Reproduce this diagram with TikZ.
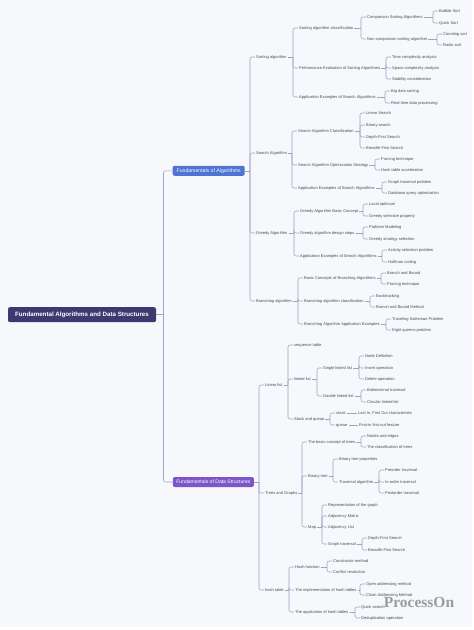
\documentclass[tikz,border=0pt]{standalone}
\usepackage{fontspec}
\setmainfont{Liberation Sans}
\newfontfamily\wmfont{Liberation Serif}
\usetikzlibrary{calc}
\definecolor{bgc}{HTML}{F6F8FC}
\definecolor{linec}{HTML}{A0A5BF}
\definecolor{txtc}{HTML}{4B4B57}
\definecolor{rootc}{HTML}{3C3A6E}
\definecolor{algc}{HTML}{4D74D0}
\definecolor{dsc}{HTML}{7C55CA}
\newcommand\kids[4][5]{%
  \draw[conn] (#2.east) -- ($(#2.east -| #3.west)+(-#1,0)$);
  \foreach \ch in {#4}{\draw[conn] ($(#2.east -| #3.west)+(-#1,0)$) |- (\ch.west);}%
}
\begin{document}
\begin{tikzpicture}[x=1pt,y=-1pt,
  conn/.style={draw=linec,line width=0.55pt,rounded corners=2pt},
  leaf/.style={anchor=west,inner sep=1pt,text height=3pt,text depth=1pt,font=\fontsize{4}{4.8}\selectfont,text=txtc},
  box/.style={rounded corners=2pt,text=white,inner sep=0pt,draw=none}]
\fill[white] (0,0) rectangle (474,630);
\fill[bgc] (0,0) rectangle (472,627);
\useasboundingbox (0,0) rectangle (474,630);

% main boxes
\node[box,fill=rootc,minimum width=148pt,minimum height=15pt,font=\fontsize{6.2}{7}\selectfont\bfseries] (root) at (82,314.7) {Fundamental Algorithms and Data Structures};
\node[box,fill=algc,minimum width=72pt,minimum height=10pt,font=\fontsize{5.15}{6}\selectfont] (alg) at (208.7,170.8) {Fundamentals of Algorithms};
\node[box,fill=dsc,minimum width=81pt,minimum height=10pt,font=\fontsize{5.05}{6}\selectfont] (ds) at (213.4,482) {Fundamentals of Data Structures};

% ---------- Algorithms ----------
\node[leaf] (s) at (255,57) {Sorting algorithm};
\node[leaf] (se) at (255,153) {Search Algorithm};
\node[leaf] (g) at (255,233) {Greedy Algorithm};
\node[leaf] (b) at (255,301) {Branching algorithm};

\node[leaf] (s1) at (298,28) {Sorting algorithm classification};
\node[leaf] (s2) at (298,68) {Performance Evaluation of Sorting Algorithms};
\node[leaf] (s3) at (298,97) {Application Examples of Search Algorithms};
\node[leaf] (s11) at (366,17) {Comparison Sorting Algorithms};
\node[leaf] (s12) at (366,39) {Non-comparison sorting algorithm};
\node[leaf] (s111) at (438,11) {Bubble Sort};
\node[leaf] (s112) at (438,23) {Quick Sort};
\node[leaf] (s121) at (442,34) {Counting sort};
\node[leaf] (s122) at (442,45) {Radix sort};
\node[leaf] (s21) at (391,57) {Time complexity analysis};
\node[leaf] (s22) at (391,68) {Space complexity analysis};
\node[leaf] (s23) at (391,79) {Stability consideration};
\node[leaf] (s31) at (390,91) {Big data sorting};
\node[leaf] (s32) at (390,103) {Real-time data processing};

\node[leaf] (se1) at (297,131) {Search Algorithm Classification};
\node[leaf] (se2) at (297,165) {Search Algorithm Optimization Strategy};
\node[leaf] (se3) at (297,188) {Application Examples of Search Algorithms};
\node[leaf] (se11) at (365,113) {Linear Search};
\node[leaf] (se12) at (365,125) {Binary search};
\node[leaf] (se13) at (365,137) {Depth-First Search};
\node[leaf] (se14) at (365,148) {Breadth-First Search};
\node[leaf] (se21) at (380,159) {Pruning technique};
\node[leaf] (se22) at (380,170) {Hash table acceleration};
\node[leaf] (se31) at (387,182) {Graph traversal problem};
\node[leaf] (se32) at (387,193) {Database query optimization};

\node[leaf] (g1) at (299,211) {Greedy Algorithm Basic Concept};
\node[leaf] (g2) at (299,233) {Greedy algorithm design steps};
\node[leaf] (g3) at (299,256) {Application Examples of Search Algorithms};
\node[leaf] (g11) at (368,204) {Local optimum};
\node[leaf] (g12) at (368,216) {Greedy selective property};
\node[leaf] (g21) at (368,227) {Problem Modeling};
\node[leaf] (g22) at (368,239) {Greedy strategy selection};
\node[leaf] (g31) at (387,250) {Activity selection problem};
\node[leaf] (g32) at (387,262) {Huffman coding};

\node[leaf] (b1) at (303,278) {Basic Concepts of Branching Algorithms};
\node[leaf] (b2) at (303,301) {Branching algorithm classification};
\node[leaf] (b3) at (303,324) {Branching Algorithm Application Examples};
\node[leaf] (b11) at (386,273) {Branch and Bound};
\node[leaf] (b12) at (386,284) {Pruning technique};
\node[leaf] (b21) at (375,296) {Backtracking};
\node[leaf] (b22) at (375,307) {Branch and Bound Method};
\node[leaf] (b31) at (391,319) {Traveling Salesman Problem};
\node[leaf] (b32) at (391,330) {Eight queens problem};

% ---------- Data Structures ----------
\node[leaf] (l) at (264,385) {Linear list};
\node[leaf] (t) at (264,493) {Trees and Graphs};
\node[leaf] (h) at (264,590) {hash table};

\node[leaf] (l1) at (293,345) {sequence table};
\node[leaf] (l2) at (293,379) {linked list};
\node[leaf] (l3) at (293,419) {Stack and queue};
\node[leaf] (l21) at (322,368) {Single linked list};
\node[leaf] (l22) at (322,396) {Double linked list};
\node[leaf] (l211) at (364,356) {Node Definition};
\node[leaf] (l212) at (364,368) {Insert operation};
\node[leaf] (l213) at (364,379) {Delete operation};
\node[leaf] (l221) at (366,390) {Bidirectional traversal};
\node[leaf] (l222) at (366,402) {Circular linked list};
\node[leaf] (l31) at (335,413) {stack};
\node[leaf] (l32) at (335,425) {queue};
\node[leaf] (l311) at (357,413) {Last In, First Out characteristic};
\node[leaf] (l321) at (358,425) {First-in first-out feature};

\node[leaf] (t1) at (307,442) {The basic concept of trees};
\node[leaf] (t2) at (307,476) {Binary tree};
\node[leaf] (t3) at (307,527) {Map};
\node[leaf] (t11) at (366,436) {Nodes and edges};
\node[leaf] (t12) at (366,447) {The classification of trees};
\node[leaf] (t21) at (338,459) {Binary tree properties};
\node[leaf] (t22) at (338,482) {Traversal algorithm};
\node[leaf] (t221) at (384,470) {Preorder traversal};
\node[leaf] (t222) at (384,482) {In-order traversal};
\node[leaf] (t223) at (384,493) {Postorder traversal};
\node[leaf] (t31) at (327,505) {Representation of the graph};
\node[leaf] (t32) at (327,516) {Adjacency Matrix};
\node[leaf] (t33) at (327,527) {Adjacency List};
\node[leaf] (t34) at (327,544) {Graph traversal};
\node[leaf] (t341) at (367,538) {Depth-First Search};
\node[leaf] (t342) at (367,550) {Breadth-First Search};

\node[leaf] (h1) at (294,567) {Hash function};
\node[leaf] (h2) at (294,590) {The implementation of hash tables};
\node[leaf] (h3) at (294,612) {The application of hash tables};
\node[leaf] (h11) at (332,561) {Constructor method};
\node[leaf] (h12) at (332,572) {Conflict resolution};
\node[leaf] (h21) at (365,584) {Open addressing method};
\node[leaf] (h22) at (365,595) {Chain Addressing Method};
\node[leaf] (h31) at (360,607) {Quick search};
\node[leaf] (h32) at (360,618) {Deduplication operation};

% ---------- connectors ----------
\kids[9]{root}{alg}{alg,ds}
\kids{alg}{s}{s,se,g,b}
\kids{s}{s1}{s1,s2,s3}
\kids{s1}{s11}{s11,s12}
\kids{s11}{s111}{s111,s112}
\kids{s12}{s121}{s121,s122}
\kids{s2}{s21}{s21,s22,s23}
\kids{s3}{s31}{s31,s32}
\kids{se}{se1}{se1,se2,se3}
\kids{se1}{se11}{se11,se12,se13,se14}
\kids{se2}{se21}{se21,se22}
\kids{se3}{se31}{se31,se32}
\kids{g}{g1}{g1,g2,g3}
\kids{g1}{g11}{g11,g12}
\kids{g2}{g21}{g21,g22}
\kids{g3}{g31}{g31,g32}
\kids{b}{b1}{b1,b2,b3}
\kids{b1}{b11}{b11,b12}
\kids{b2}{b21}{b21,b22}
\kids{b3}{b31}{b31,b32}

\kids{ds}{l}{l,t,h}
\kids{l}{l1}{l1,l2,l3}
\kids{l2}{l21}{l21,l22}
\kids{l21}{l211}{l211,l212,l213}
\kids{l22}{l221}{l221,l222}
\kids{l3}{l31}{l31,l32}
\draw[conn] (l31.east) -- (l311.west);
\draw[conn] (l32.east) -- (l321.west);
\kids{t}{t1}{t1,t2,t3}
\kids{t1}{t11}{t11,t12}
\kids{t2}{t21}{t21,t22}
\kids{t22}{t221}{t221,t222,t223}
\kids{t3}{t31}{t31,t32,t33,t34}
\kids{t34}{t341}{t341,t342}
\kids{h}{h1}{h1,h2,h3}
\kids{h1}{h11}{h11,h12}
\kids{h2}{h21}{h21,h22}
\kids{h3}{h31}{h31,h32}

% watermark
\node[text=black!45,opacity=0.85,inner sep=0pt,font=\wmfont\bfseries\fontsize{15.5}{16}\selectfont] (wm) at (419,602) {ProcessOn};
\end{tikzpicture}
\end{document}
